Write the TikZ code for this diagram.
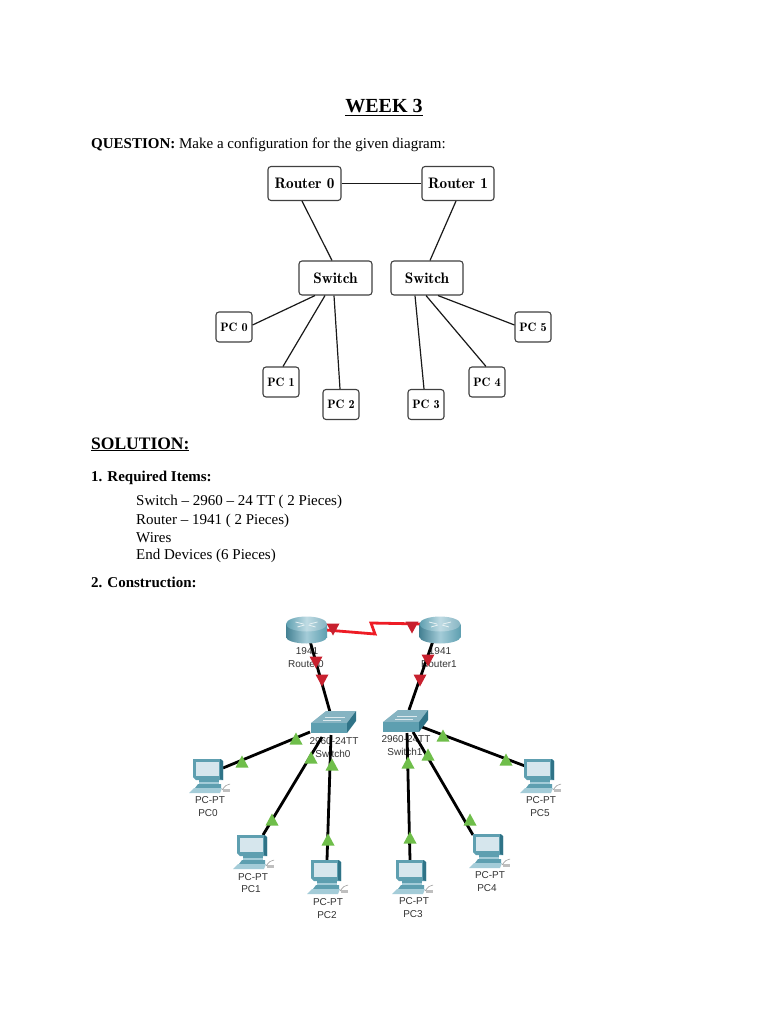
\documentclass[tikz,border=0pt]{standalone}
\usepackage{fontspec}
\setmainfont{Liberation Serif}
\newfontfamily\labelfont{Liberation Sans}
\usetikzlibrary{calc}
\definecolor{tealA}{HTML}{5E9FB0}
\definecolor{tealB}{HTML}{A4CCD8}
\definecolor{tealC}{HTML}{2F7387}
\definecolor{tealD}{HTML}{86B4C2}
\definecolor{screenc}{HTML}{D6E6ED}
\definecolor{redtri}{HTML}{C8202E}
\definecolor{redlink}{HTML}{EE1C25}
\definecolor{grntri}{HTML}{6FBE4A}
\newcommand{\cmb}{\fontfamily{lmr}\selectfont\bfseries}
\tikzset{
  x=1pt,y=-1pt,
  txt/.style={anchor=base west,inner sep=0pt,font=\fontsize{15}{15}\selectfont},
  head/.style={anchor=base west,inner sep=0pt,font=\fontsize{15}{15}\selectfont\bfseries},
  bigbox/.style={draw=black!75,line width=1.1pt,rounded corners=3pt,fill=white,inner sep=0pt,minimum width=73pt,minimum height=34pt,font=\fontsize{15.2}{15}\cmb},
  pcbox/.style={draw=black!75,line width=1.1pt,rounded corners=3pt,fill=white,inner sep=0pt,minimum width=36pt,minimum height=30pt,font=\fontsize{12.2}{12}\cmb},
  thin link/.style={draw=black!90,line width=1.2pt},
  cable/.style={draw=black,line width=2.8pt},
  serial/.style={draw=redlink,line width=2.8pt},
  plabel/.style={inner sep=0pt,text=black!80,font=\fontsize{10}{10}\labelfont},
  redmark/.pic={\fill[redtri] (-6.5,-5.5) -- (6.5,-5.5) -- (0,6.5) -- cycle;},
  grnmark/.pic={\fill[grntri] (-6.5,5.5) -- (6.5,5.5) -- (0,-6.5) -- cycle;},
  routericon/.pic={
    \shade[left color=tealC!90,right color=tealA,middle color=tealB] (-20.5,-6) rectangle (20.5,7);
    \shade[left color=tealC!90,right color=tealA,middle color=tealB] (0,7) ellipse [x radius=20.5pt,y radius=6.5pt];
    \shade[left color=tealA,right color=tealD,middle color=tealB!70!white] (0,-6) ellipse [x radius=20.5pt,y radius=7.5pt];
    \draw[white!85!tealA,line width=0.8pt] (-11,-8) -- (-3,-6) (11,-8) -- (3,-6) (-9,-3) -- (-2,-5) (9,-3) -- (2,-5);
  },
  switchicon/.pic={
    \fill[tealD] (0,0) -- (15,-12) -- (45,-12) -- (36,0) -- cycle;
    \fill[tealA] (0,0) rectangle (36,10);
    \fill[tealC] (36,0) -- (45,-12) -- (45,-2) -- (36,10) -- cycle;
    \draw[white!70!tealD,line width=0.6pt] (14,-6) -- (34,-6) (12,-3) -- (30,-3);
  },
  pcicon/.pic={
    \fill[tealA] (0,0) -- (28,0) -- (30,2) -- (30,21) -- (3,21) -- (0,18) -- cycle;
    \fill[tealC] (27,0) -- (30,2) -- (30,21) -- (27,20) -- cycle;
    \fill[screenc] (3,3) rectangle (26,17);
    \fill[tealA] (6,21) rectangle (26,26);
    \fill[tealB] (6,23) rectangle (26,25);
    \fill[tealA] (2,29) -- (5,25) -- (28,25) -- (28,29) -- cycle;
    \fill[tealB] (-4,34) -- (1,29) -- (29,29) -- (27,34) -- cycle;
    \draw[black!45,line width=0.5pt] (29,31) .. controls (32,27) and (34,25) .. (37,25);
    \fill[black!25] (30,30) rectangle (37,33);
  },
}
\begin{document}
\begin{tikzpicture}
\useasboundingbox[fill=white] (0,0) rectangle (768,1024);

% headings and text
\node[inner sep=0pt,anchor=base,font=\fontsize{20}{20}\selectfont\bfseries] (title) at (384,113) {\underline{WEEK 3}};
\node[txt] (question) at (91,149) {\textbf{QUESTION:} Make a configuration for the given diagram:};
\node[anchor=base west,inner sep=0pt,font=\fontsize{17.5}{17.5}\selectfont\bfseries] (solution) at (91,449) {\underline{SOLUTION:}};
\node[head] (req) at (91,481) {1. Required Items:};
\node[txt] (i1) at (136,505) {Switch – 2960 – 24 TT ( 2 Pieces)};
\node[txt] (i2) at (136,524) {Router – 1941 ( 2 Pieces)};
\node[txt] (i3) at (136,542) {Wires};
\node[txt] (i4) at (136,559) {End Devices (6 Pieces)};
\node[head] (cons) at (91,587) {2. Construction:};

% upper diagram
\node[bigbox] (r0) at (304.5,183.5) {Router 0};
\node[bigbox,minimum width=72pt] (r1) at (458,183.5) {Router 1};
\node[bigbox] (s0) at (335.5,278) {Switch};
\node[bigbox,minimum width=72pt] (s1) at (427,278) {Switch};
\node[pcbox] (p0) at (234,327) {PC 0};
\node[pcbox] (p1) at (281,382) {PC 1};
\node[pcbox] (p2) at (341,404.5) {PC 2};
\node[pcbox] (p3) at (426,404.5) {PC 3};
\node[pcbox] (p4) at (487,382) {PC 4};
\node[pcbox] (p5) at (533,327) {PC 5};
\draw[thin link] (r0.east) -- (r1.west);
\draw[thin link] ([xshift=-2.5pt]r0.south) -- ([xshift=-3.5pt]s0.north);
\draw[thin link] ([xshift=-2pt]r1.south) -- ([xshift=3pt]s1.north);
\draw[thin link] ([xshift=-20.5pt]s0.south) -- ([yshift=2pt]p0.east);
\draw[thin link] ([xshift=-10.5pt]s0.south) -- ([xshift=2pt]p1.north);
\draw[thin link] ([xshift=-1.5pt]s0.south) -- ([xshift=-1pt]p2.north);
\draw[thin link] ([xshift=-12pt]s1.south) -- ([xshift=-2pt]p3.north);
\draw[thin link] ([xshift=-1pt]s1.south) -- ([xshift=-1pt]p4.north);
\draw[thin link] ([xshift=11pt]s1.south) -- ([yshift=2pt]p5.west);

% lower diagram: device labels
\node[plabel] (lr0a) at (307,651) {1941};
\node[plabel] (lr0b) at (306,664) {Router0};
\node[plabel] (lr1a) at (440,651) {1941};
\node[plabel] (lr1b) at (439,664) {Router1};
\node[plabel] (ls0a) at (334,741) {2960-24TT};
\node[plabel] (ls0b) at (333,754) {Switch0};
\node[plabel] (ls1a) at (406,739) {2960-24TT};
\node[plabel] (ls1b) at (405,752) {Switch1};
\node[plabel] (lp0a) at (210,800) {PC-PT};
\node[plabel] (lp0b) at (208,813) {PC0};
\node[plabel] (lp1a) at (253,877) {PC-PT};
\node[plabel] (lp1b) at (251,889) {PC1};
\node[plabel] (lp2a) at (328,902) {PC-PT};
\node[plabel] (lp2b) at (327,915) {PC2};
\node[plabel] (lp3a) at (414,901) {PC-PT};
\node[plabel] (lp3b) at (413,914) {PC3};
\node[plabel] (lp4a) at (490,875) {PC-PT};
\node[plabel] (lp4b) at (487,888) {PC4};
\node[plabel] (lp5a) at (541,800) {PC-PT};
\node[plabel] (lp5b) at (540,813) {PC5};

% lower diagram: ports
\coordinate (a0) at (326,630);
\coordinate (a1) at (422,624);
\coordinate (b0) at (310,641);
\coordinate (c0) at (330,712);
\coordinate (b1) at (433,641);
\coordinate (c1) at (409,710);
\coordinate (d0) at (310,732);
\coordinate (e0) at (223,768);
\coordinate (d1) at (322,737);
\coordinate (e1) at (263,835);
\coordinate (d2) at (331,735);
\coordinate (e2) at (327,860);
\coordinate (d3) at (407,733);
\coordinate (e3) at (410,860);
\coordinate (d4) at (413,732);
\coordinate (e4) at (473,835);
\coordinate (d5) at (422,727);
\coordinate (e5) at (525,766);

% links
\draw[cable] (b0) -- (c0);
\draw[cable] (b1) -- (c1);
\draw[cable] (d0) -- (e0);
\draw[cable] (d1) -- (e1);
\draw[cable] (d2) -- (e2);
\draw[cable] (d3) -- (e3);
\draw[cable] (d4) -- (e4);
\draw[cable] (d5) -- (e5);
\draw[serial] (a0) -- (375,634) -- (371,623) -- (a1);

% devices
\pic at (306.5,630) {routericon};
\pic at (440,630) {routericon};
\pic at (311,723) {switchicon};
\pic at (383,722) {switchicon};
\pic at (193,759) {pcicon};
\pic at (237,835) {pcicon};
\pic at (311,860) {pcicon};
\pic at (396,860) {pcicon};
\pic at (473,834) {pcicon};
\pic at (524,759) {pcicon};

% link lights
\pic at (333,629) {redmark};
\pic at (412,627) {redmark};
\pic at (316,662) {redmark};
\pic at (322,680) {redmark};
\pic at (428,660) {redmark};
\pic at (420,680) {redmark};
\pic at (296,739) {grnmark};
\pic at (242,762) {grnmark};
\pic at (311,758) {grnmark};
\pic at (272,820) {grnmark};
\pic at (332,765) {grnmark};
\pic at (328,840) {grnmark};
\pic at (408,763) {grnmark};
\pic at (410,838) {grnmark};
\pic at (428,755) {grnmark};
\pic at (470,820) {grnmark};
\pic at (443,736) {grnmark};
\pic at (506,760) {grnmark};
\end{tikzpicture}
\end{document}
